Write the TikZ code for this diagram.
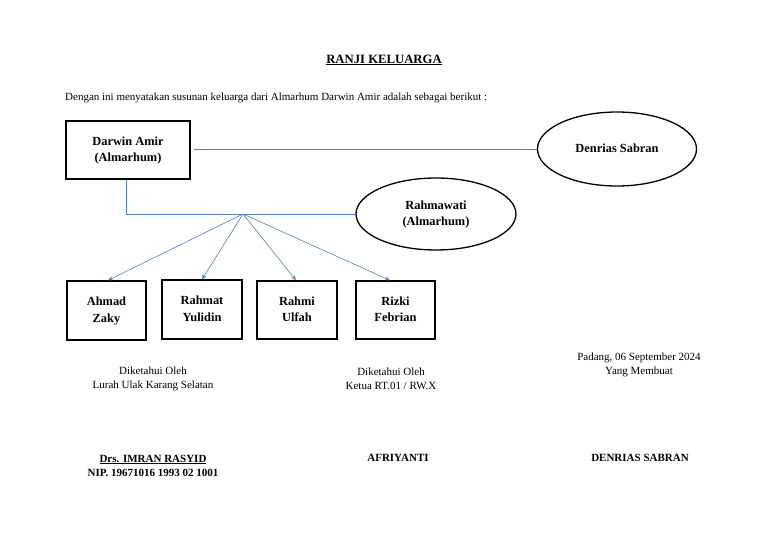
\documentclass[tikz,border=0pt]{standalone}
\usepackage{fontspec}
\setmainfont{Liberation Serif}
\usetikzlibrary{shapes.geometric,arrows.meta}
\definecolor{lnblue}{RGB}{79,129,189}
\begin{document}
\begin{tikzpicture}[x=1pt,y=-1pt,
  box/.style={draw,line width=1.3pt,font=\bfseries\fontsize{12.4}{16.5}\selectfont,align=center,inner sep=0pt,text depth=1.5pt},
  oval/.style={draw,ellipse,line width=1.3pt,font=\bfseries\fontsize{12.4}{16.5}\selectfont,align=center,inner sep=0pt,text depth=1.5pt},
  link/.style={draw=lnblue,line width=0.7pt},
  arr/.style={draw=lnblue,line width=0.6pt,-{Stealth[length=5pt,width=4pt]}},
  txt/.style={font=\fontsize{11}{14}\selectfont,align=center,inner sep=0pt},
  sig/.style={font=\bfseries\fontsize{11}{14}\selectfont,align=center,inner sep=0pt}]
\useasboundingbox (0,0) rectangle (768,543);
\node[font=\bfseries\fontsize{12.7}{14}\selectfont] (title) at (384,60) {\underline{RANJI KELUARGA}};
\node[anchor=west,font=\fontsize{11}{13}\selectfont,inner sep=0pt] (intro) at (65,98) {Dengan ini menyatakan susunan keluarga dari Almarhum Darwin Amir adalah sebagai berikut :};
\node[box,minimum width=124pt,minimum height=58pt] (darwin) at (128,150) {Darwin Amir\\(Almarhum)};
\node[oval,minimum width=159pt,minimum height=74pt] (denrias) at (617,149) {Denrias Sabran};
\node[oval,minimum width=160pt,minimum height=72pt] (rahmawati) at (436,214) {Rahmawati\\(Almarhum)};
\node[box,minimum width=79pt,minimum height=59pt] (ahmad) at (106.5,310.5) {Ahmad\\Zaky};
\node[box,minimum width=80pt,minimum height=59pt] (rahmat) at (202,309.5) {Rahmat\\Yulidin};
\node[box,minimum width=80pt,minimum height=58pt] (rahmi) at (297,310) {Rahmi\\Ulfah};
\node[box,minimum width=79pt,minimum height=58pt] (rizki) at (395.5,310) {Rizki\\Febrian};
\coordinate (hub) at (243,214);
\coordinate (corner) at (126,214);
\draw[link] ([xshift=3pt]darwin.east |- denrias.west) -- (denrias.west);
\draw[link] (darwin.south -| corner) -- (corner) -- (rahmawati.west);
\draw[arr] (hub) -- ([xshift=1.5pt]ahmad.north);
\draw[arr] (hub) -- (rahmat.north);
\draw[arr] (hub) -- ([xshift=-1pt]rahmi.north);
\draw[arr] (hub) -- ([xshift=-5.5pt]rizki.north);
\node[txt] (k1) at (153,379) {Diketahui Oleh\\Lurah Ulak Karang Selatan};
\node[txt] (k2) at (391,379) {Diketahui Oleh\\Ketua RT.01 / RW.X};
\node[txt] (k3) at (639,365) {Padang, 06 September 2024\\Yang Membuat};
\node[sig] (s1) at (153,465.5) {\underline{Drs. IMRAN RASYID}\\NIP. 19671016 1993 02 1001};
\node[sig] (s2) at (398,458) {AFRIYANTI};
\node[sig] (s3) at (640,458) {DENRIAS SABRAN};
\end{tikzpicture}
\end{document}
